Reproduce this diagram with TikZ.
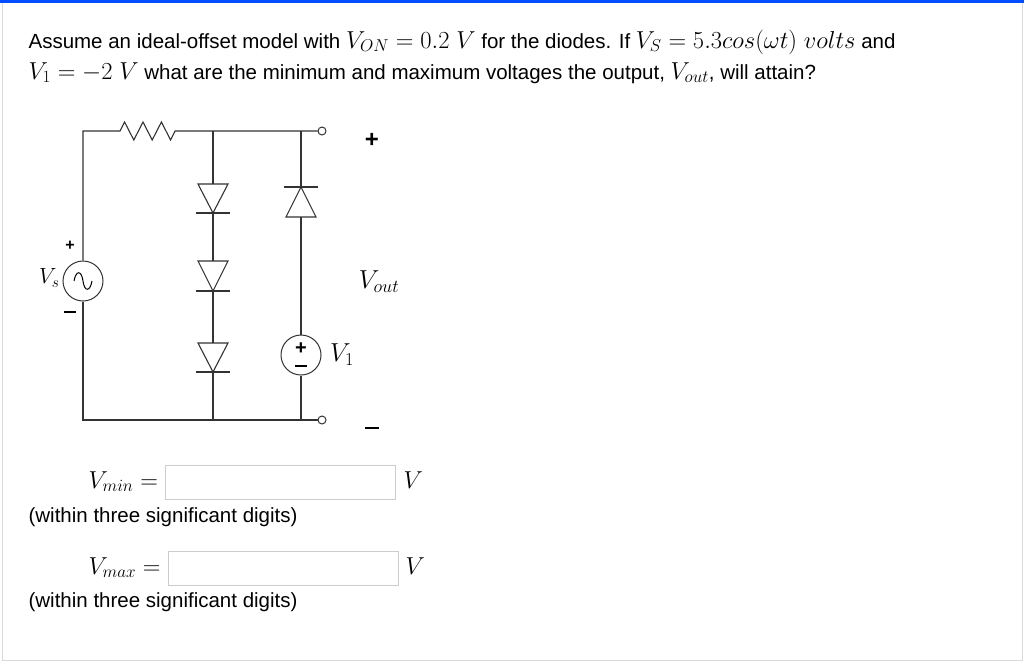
\documentclass[tikz,border=0pt]{standalone}
\RequirePackage{fix-cm}
\usepackage{fontspec}
\setmainfont{Liberation Sans}
\usepackage{amsmath}
\newcommand\bgmath[1]{{\fontsize{24.5}{24}\selectfont$#1$}}
\begin{document}
\begin{tikzpicture}[x=1pt,y=-1pt,line width=1.2pt,
  wire/.style={line width=1.1pt,draw=black!80},
  txt/.style={anchor=base west,inner sep=0pt,font=\fontsize{20.5}{22}\selectfont},
  ansbox/.style={draw=black!20,line width=0.8pt},
  term/.style={circle,draw=black!80,fill=white,line width=1pt,minimum size=8pt,inner sep=0pt}]
\useasboundingbox (0,0) rectangle (1024,662);
\fill[white] (0,0) rectangle (1024,662);
\draw[black!15,line width=1pt] (2,2) -- (2,660) -- (1022,660) -- (1022,2);
\fill[blue!70!cyan] (0,0) rectangle (1024,2.5);
\node[txt] (l1) at (28,48) {Assume an ideal-offset model with \bgmath{V_{ON}=0.2\ V} for the diodes. If \bgmath{V_S=5.3cos(\omega t)\ volts} and};
\node[txt] (l2) at (28,79) {\bgmath{V_1=-2\ V} what are the minimum and maximum voltages the output, \bgmath{V_{out}}, will attain?};
% circuit
\coordinate (tl) at (83,131); \coordinate (bl) at (83,420);
\coordinate (d) at (213,131); \coordinate (db) at (213,420);
\coordinate (r) at (301,131); \coordinate (rb) at (301,420);
\node[term] (tp) at (322,131) {};
\node[term] (tm) at (322,420) {};
\node[circle,draw=black!80,line width=1pt,minimum size=40pt,inner sep=0pt] (vs) at (83,281) {};
\draw[line width=1pt] (74,281) .. controls (76,270) and (81.5,270) .. (83,281) .. controls (84.5,292) and (90,292) .. (92,281);
\node[circle,draw=black!80,line width=1pt,minimum size=40pt,inner sep=0pt] (v1) at (301,355) {};
\node[font=\bfseries\fontsize{20}{20}\selectfont] (v1p) at (301,349) {+};
\draw[line width=2.2pt] (295,366) -- (307,366);
\draw[wire] (vs.north) -- (tl) -- (120,131) -- (124.6,122) -- (133.8,140) -- (143,122) -- (152.2,140) -- (161.4,122) -- (170.6,140) -- (175,131) -- (d) -- (r) -- (tp.west);
\draw[wire] (vs.south) -- (bl) -- (db) -- (rb) -- (tm.west);
% diode column
\draw[wire] (d) -- (db);
\foreach \ya/\yb in {184/213,261/291,343/372}{
  \draw[wire,fill=white] (198,\ya) -- (228,\ya) -- (213,\yb) -- cycle;
  \draw[wire] (196,\yb) -- (230,\yb);}
\draw[wire] (r) -- (v1.north);
\draw[wire] (v1.south) -- (rb);
\draw[wire,fill=white] (286,217) -- (316,217) -- (301,187) -- cycle;
\draw[wire] (284,187) -- (318,187);
% labels
\node[font=\fontsize{22}{22}\selectfont,inner sep=0pt,anchor=east] (vsl) at (60,278) {$V_s$};
\node[font=\bfseries\fontsize{16}{16}\selectfont] (vsp) at (70,246) {+};
\draw[line width=1.8pt] (64,312) -- (76,312);
\node[font=\fontsize{26}{26}\selectfont] (v1l) at (342,355) {$V_1$};
\node[font=\bfseries\fontsize{24}{24}\selectfont] (op) at (372,140) {+};
\draw[line width=2.4pt] (365,428) -- (379,428);
\node[font=\fontsize{26}{26}\selectfont] (vo) at (379,282) {$V_{out}$};
% answers
\node[txt] (vmin) at (88,488) {\bgmath{V_{min}=}};
\draw[ansbox] (165,465) rectangle (395,499);
\node[txt] (u1) at (403,488) {\bgmath{V}};
\node[txt] (w1) at (28,522) {(within three significant digits)};
\node[txt] (vmax) at (88,574) {\bgmath{V_{max}=}};
\draw[ansbox] (168,551) rectangle (398,585);
\node[txt] (u2) at (405,574) {\bgmath{V}};
\node[txt] (w2) at (28,607) {(within three significant digits)};
\end{tikzpicture}
\end{document}
